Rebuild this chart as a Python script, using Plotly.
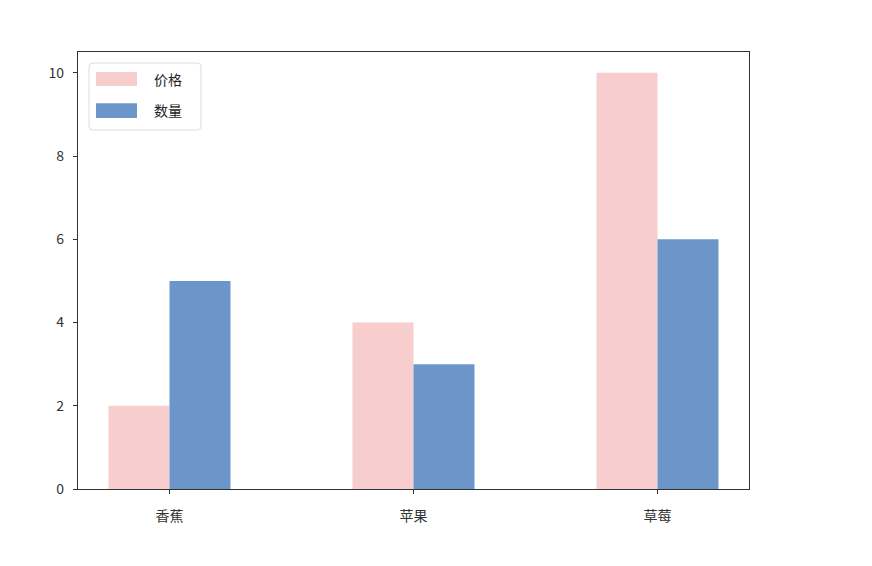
import plotly.graph_objects as go

# data
categories = ['香蕉', '苹果', '草莓']
price = [2, 4, 10]
quantity = [5, 3, 6]
y_ticks = [0, 2, 4, 6, 8, 10]

pink = 'rgb(247,205,205)'
blue = 'rgb(108,150,201)'

fig = go.Figure()
fig.add_trace(go.Bar(x=categories, y=price, name='价格', width=0.25, offset=-0.25,
                     marker=dict(color=pink, line=dict(width=0))))
fig.add_trace(go.Bar(x=categories, y=quantity, name='数量', width=0.25, offset=0,
                     marker=dict(color=blue, line=dict(width=0))))

axis_style = dict(showline=True, linecolor='#333333', linewidth=1.2, mirror=True,
                  ticks='outside', ticklen=4, tickcolor='#333333', showgrid=False,
                  zeroline=False, tickfont=dict(size=14, color='#333333'))

# matplotlib-like legend drawn with shapes (wide swatches, rounded light frame)
legend_shapes = [
    dict(type='path', xref='paper', yref='paper',
         path='M 0.022,0.9748 L 0.178,0.9748 Q 0.1833,0.9748 0.1833,0.966 '
              'L 0.1833,0.830 Q 0.1833,0.8215 0.178,0.8215 L 0.022,0.8215 '
              'Q 0.0164,0.8215 0.0164,0.830 L 0.0164,0.966 Q 0.0164,0.9748 0.022,0.9748 Z',
         line=dict(color='#dcdcdc', width=1), fillcolor='white'),
    dict(type='rect', xref='paper', yref='paper', x0=0.0268, x1=0.0879, y0=0.922, y1=0.954,
         line=dict(width=0), fillcolor=pink),
    dict(type='rect', xref='paper', yref='paper', x0=0.0268, x1=0.0879, y0=0.849, y1=0.883,
         line=dict(width=0), fillcolor=blue),
]
legend_text = [
    dict(text='价格', x=0.110, y=0.938, xref='paper', yref='paper', xanchor='left',
         yanchor='middle', showarrow=False, font=dict(size=14, color='#222222')),
    dict(text='数量', x=0.110, y=0.867, xref='paper', yref='paper', xanchor='left',
         yanchor='middle', showarrow=False, font=dict(size=14, color='#222222')),
]

fig.update_layout(
    width=872, height=566,
    margin=dict(l=70, r=131, t=44, b=85),
    plot_bgcolor='white', paper_bgcolor='white',
    font=dict(family='Noto Sans CJK SC', size=14, color='#222222'),
    xaxis=dict(range=[-0.375, 2.375], ticklabelstandoff=10, **axis_style),
    yaxis=dict(range=[0, 10.5], tickvals=y_ticks, ticklabelstandoff=6, **axis_style),
    shapes=legend_shapes,
    annotations=legend_text,
    showlegend=False,
)

fig.write_html("out.html")
